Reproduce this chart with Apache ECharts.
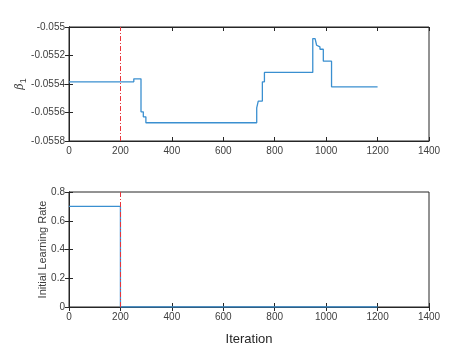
<!DOCTYPE html>
<html>
<head>
<meta charset="utf-8">
<script src="https://cdn.jsdelivr.net/npm/echarts@6/dist/echarts.min.js"></script>
<style>
  html, body { margin: 0; padding: 0; background: #fff; }
  #chart { width: 474px; height: 355px; }
</style>
</head>
<body>
<div id="chart"></div>
<script>
// beta1 trace: iteration where each level starts, and its value
const betaIter = [0, 252, 280, 289, 299, 730, 736, 752, 760, 948, 957, 963, 970, 976, 989, 1021, 1200];
const betaVal = [-0.055385, -0.055364, -0.055595, -0.05563, -0.055672, -0.055567, -0.05552, -0.055385,
  -0.055319, -0.055081, -0.055093, -0.055128, -0.05514, -0.055156, -0.05524, -0.05542, -0.05542];
// initial learning rate trace
const lrIter = [0, 200, 1200];
const lrVal = [0.7, 0, 0];
const markIter = 200;
const xTicks = [0, 200, 400, 600, 800, 1000, 1200, 1400];

const chart = echarts.init(document.getElementById("chart"));
const txt = "#262626";
const lbl = "#404040";
const font = "Liberation Sans, Arial, sans-serif";

const zip = (a, b) => a.map((v, i) => [v, b[i]]);
const fmt = (v) => String(parseFloat(v.toFixed(5)));

const xAxisBase = (grid, pos, showLabel) => ({
  type: "value",
  gridIndex: grid,
  position: pos,
  min: xTicks[0],
  max: xTicks[xTicks.length - 1],
  interval: 200,
  axisLine: { show: true, lineStyle: { color: txt, width: 1 } },
  axisTick: { show: true, inside: true, length: 4, lineStyle: { color: txt } },
  axisLabel: { show: showLabel, color: lbl, fontSize: 10, fontFamily: font, margin: 5, formatter: fmt },
  splitLine: { show: false },
});

const yAxisBase = (grid, pos, showLabel, min, max, interval) => ({
  type: "value",
  gridIndex: grid,
  position: pos,
  min: min,
  max: max,
  interval: interval,
  axisLine: { show: true, lineStyle: { color: txt, width: 1 } },
  axisTick: { show: true, inside: true, length: 4, lineStyle: { color: txt } },
  axisLabel: { show: showLabel, color: lbl, fontSize: 10, fontFamily: font, margin: 4, formatter: fmt },
  splitLine: { show: false },
});

const redLine = {
  silent: true,
  symbol: ["none", "none"],
  label: { show: false },
  lineStyle: { color: "#e8343a", width: 1, type: [5, 2, 1, 2] },
  data: [{ xAxis: markIter }],
};

let option = {
  animation: false,
  grid: [
    { left: 69, top: 27, width: 360, height: 114, show: true, borderColor: txt, borderWidth: 1, outerBoundsMode: "none", containLabel: false },
    { left: 69, top: 192, width: 360, height: 115, show: true, borderColor: txt, borderWidth: 1, outerBoundsMode: "none", containLabel: false },
  ],
  xAxis: [
    xAxisBase(0, "bottom", true),
    xAxisBase(0, "top", false),
    Object.assign(xAxisBase(1, "bottom", true), {
      name: "Iteration",
      nameLocation: "middle",
      nameGap: 26,
      nameMoveOverlap: false,
      nameTextStyle: { color: txt, fontSize: 13, fontFamily: font },
    }),
    xAxisBase(1, "top", false),
  ],
  yAxis: [
    Object.assign(yAxisBase(0, "left", true, -0.0558, -0.055, 0.0002), {
      name: "{b|β}{s|1}",
      nameLocation: "middle",
      nameGap: 41,
      nameMoveOverlap: false,
      nameTextStyle: {
        rich: {
          b: { fontSize: 11, fontStyle: "italic", fontFamily: "DejaVu Serif, serif", color: lbl },
          s: { fontSize: 9, fontFamily: font, color: lbl, padding: [6, 0, 0, 0] },
        },
      },
    }),
    yAxisBase(0, "right", false, -0.0558, -0.055, 0.0002),
    Object.assign(yAxisBase(1, "left", true, 0, 0.8, 0.2), {
      name: "Initial Learning Rate",
      nameLocation: "middle",
      nameGap: 21,
      nameMoveOverlap: false,
      nameTextStyle: { color: lbl, fontSize: 11, fontFamily: font },
    }),
    yAxisBase(1, "right", false, 0, 0.8, 0.2),
  ],
  series: [
    {
      type: "line",
      xAxisIndex: 0,
      yAxisIndex: 0,
      step: "end",
      showSymbol: false,
      data: zip(betaIter, betaVal),
      lineStyle: { color: "#3a8fd0", width: 1.3 },
      markLine: redLine,
    },
    {
      type: "line",
      xAxisIndex: 2,
      yAxisIndex: 2,
      step: "end",
      showSymbol: false,
      data: zip(lrIter, lrVal),
      lineStyle: { color: "#3a8fd0", width: 1.3 },
      markLine: redLine,
    },
  ],
};

chart.setOption(option);
</script>
</body>
</html>
